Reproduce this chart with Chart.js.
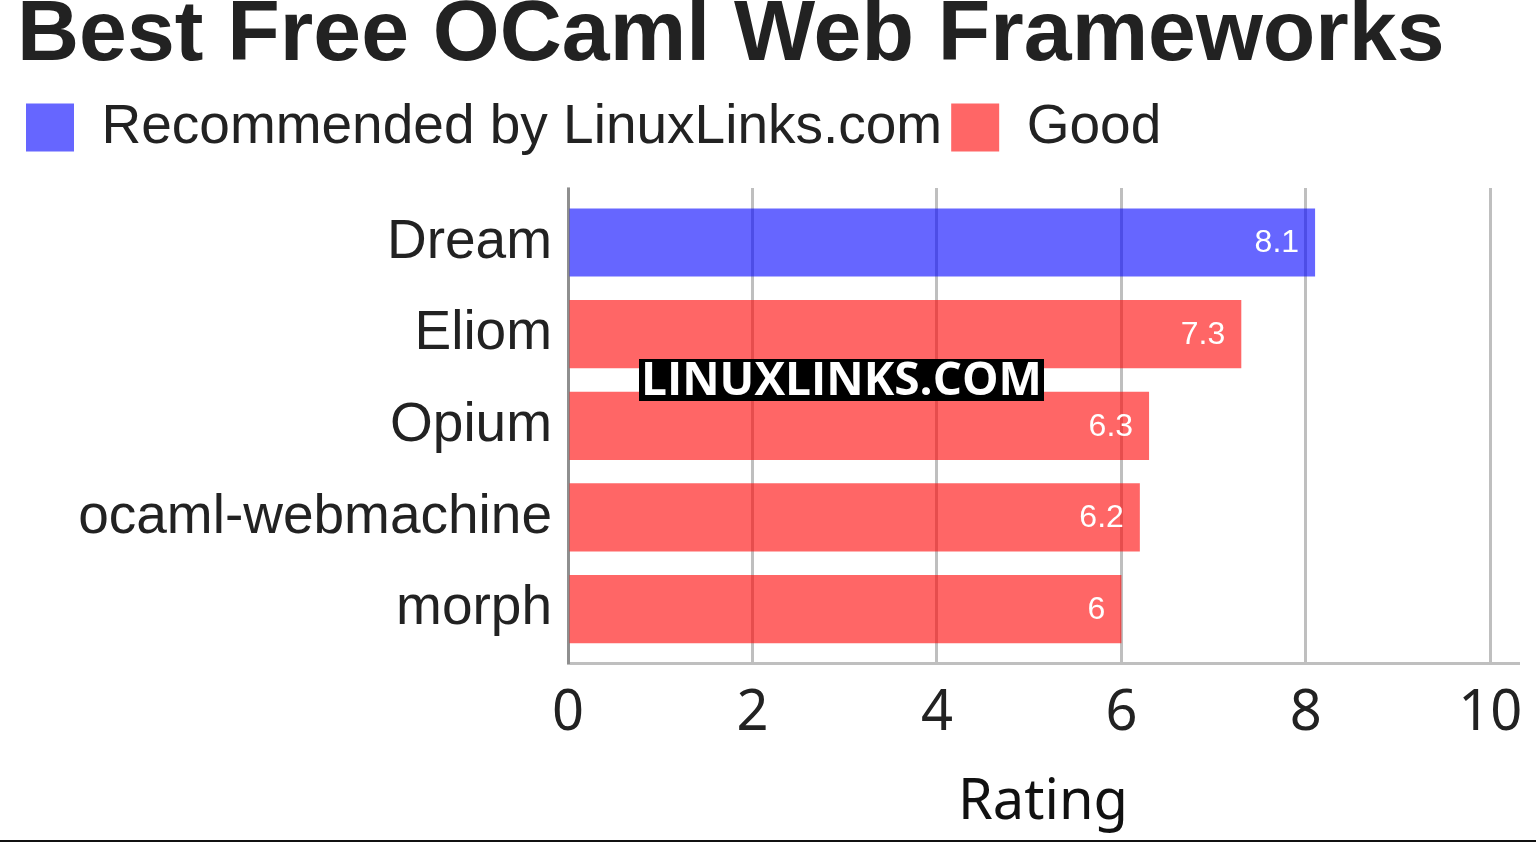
<!DOCTYPE html>
<html>
<head>
<meta charset="utf-8">
<title>Best Free OCaml Web Frameworks</title>
<script src="https://cdn.jsdelivr.net/npm/chart.js@4.4.1/dist/chart.umd.min.js"></script>
<style>
  html, body { margin: 0; padding: 0; background: #fff; overflow: hidden; }
  #wrap { position: relative; width: 1536px; height: 840px; border-bottom: 2px solid #111; }
  #mark {
    position: absolute; left: 639px; top: 359px; height: 42px;
    padding: 0 2px; background: #000; color: #fff;
    font: bold 46px/37px "Open Sans", sans-serif; overflow: visible;
  }
</style>
</head>
<body>
<div id="wrap">
  <canvas id="chart" width="1536" height="840"></canvas>
  <div id="mark">LINUXLINKS.COM</div>
</div>
<script>
// ─── Data ───
const categories = ['Dream', 'Eliom', 'Opium', 'ocaml-webmachine', 'morph'];
const ratings    = [8.1, 7.3, 6.3, 6.2, 6];
const groups     = ['Recommended by LinuxLinks.com', 'Good'];
const groupOf    = [0, 1, 1, 1, 1];
const xTicks     = [0, 2, 4, 6, 8, 10];

const COL = ['rgba(0, 0, 255, 0.6)', 'rgba(255, 0, 0, 0.6)'];
const INK = '#222';

// one dataset per group so the legend shows both, bars share a slot
const datasets = groups.map((g, gi) => ({
    label: g,
    data: ratings.map((v, i) => groupOf[i] === gi ? v : null),
    backgroundColor: COL[gi],
    borderWidth: 0,
    categoryPercentage: 0.8,
    barPercentage: 0.93,
    grouped: false
}));

// value text inside the bar end
const valueLabels = {
    id: 'valueLabels',
    afterDatasetsDraw(chart) {
        const ctx = chart.ctx;
        ctx.save();
        ctx.font = '32px "Liberation Sans", Arial, sans-serif';
        ctx.fillStyle = '#fff';
        ctx.textAlign = 'right';
        ctx.textBaseline = 'middle';
        chart.data.datasets.forEach((ds, di) => {
            chart.getDatasetMeta(di).data.forEach((bar, i) => {
                if (ds.data[i] == null) return;
                ctx.fillText(String(ds.data[i]), bar.x - 16, bar.y + 1);
            });
        });
        ctx.restore();
    }
};

// extra room under the legend
const legendGap = {
    id: 'legendGap',
    beforeInit(chart) {
        const fit = chart.legend.fit;
        chart.legend.fit = function () {
            fit.call(this);
            this.height += 23;
        };
    }
};

new Chart(document.getElementById('chart'), {
    type: 'bar',
    data: { labels: categories, datasets },
    plugins: [valueLabels, legendGap],
    options: {
        indexAxis: 'y',
        responsive: false,
        animation: false,
        layout: { padding: { left: 17, right: 18, top: 0, bottom: 0 } },
        scales: {
            x: {
                min: 0,
                max: 10.3,
                afterBuildTicks: s => { s.ticks = xTicks.map(v => ({ value: v })); },
                afterFit: s => { s.paddingLeft = 0; s.paddingRight = 0; },
                grid: { color: 'rgba(0,0,0,0.25)', lineWidth: 3, drawTicks: false },
                border: { display: true, color: 'rgba(0,0,0,0.25)', width: 3 },
                ticks: {
                    color: INK,
                    padding: 17,
                    font: { family: '"Noto Sans", "Open Sans", sans-serif', size: 56 }
                },
                title: {
                    display: true,
                    text: 'Rating',
                    color: '#111',
                    padding: { top: 5, bottom: 3 },
                    font: { family: '"Noto Sans", "Open Sans", sans-serif', size: 56 }
                }
            },
            y: {
                // a little air above the first bar and below the last
                afterBuildTicks: s => { s._startValue -= 0.095; s._valueRange += 0.19; },
                afterFit: s => { s.width = 551; },
                grid: { display: false },
                border: { display: true, color: 'rgba(0,0,0,0.25)', width: 3 },
                ticks: {
                    color: INK,
                    padding: 8,
                    font: { family: '"Liberation Sans", Arial, sans-serif', size: 55 }
                }
            }
        },
        plugins: {
            title: {
                display: true,
                text: 'Best Free OCaml Web Frameworks',
                align: 'start',
                color: INK,
                padding: { top: -7, bottom: 12 },
                font: { family: '"Liberation Sans", Arial, sans-serif', size: 86, weight: 'bold', lineHeight: 1 }
            },
            legend: {
                display: true,
                align: 'start',
                labels: {
                    color: INK,
                    boxWidth: 48,
                    boxHeight: 48,
                    padding: 9,
                    font: { family: '"Liberation Sans", Arial, sans-serif', size: 55 }
                }
            },
            tooltip: { enabled: false }
        }
    }
});
</script>
</body>
</html>
